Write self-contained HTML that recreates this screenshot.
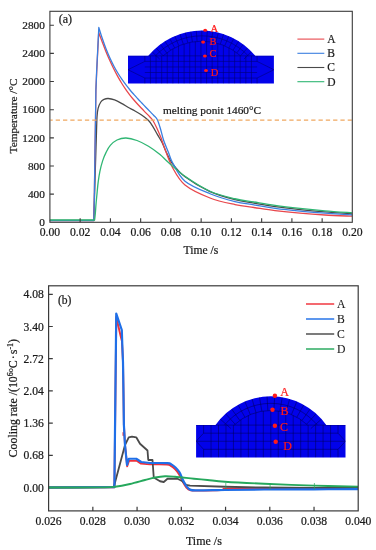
<!DOCTYPE html><html><head><meta charset="utf-8"><title>Temperature and cooling rate curves</title>
<style>html,body{margin:0;padding:0;background:#fff}svg{display:block}text{font-family:"Liberation Serif","Times New Roman",serif;fill:#1a1a1a;stroke:#1a1a1a;stroke-width:0.22px}</style></head><body>
<svg width="376" height="550" viewBox="0 0 376 550">
<rect width="376" height="550" fill="#fff"/>
<g fill="none" stroke-width="1.3" stroke-linejoin="round" stroke-linecap="butt">
<path d="M49.90,220.40 L93.80,220.40 L94.40,200.00 L95.30,170.00 L96.40,135.00 C96.50,132.00 96.72,121.43 97.00,117.00 C97.28,112.57 97.47,110.90 98.10,108.40 C98.73,105.90 99.82,103.50 100.80,102.00 C101.78,100.50 102.77,99.98 104.00,99.40 C105.23,98.82 106.43,98.42 108.20,98.50 C109.97,98.58 112.30,99.05 114.60,99.90 C116.90,100.75 119.77,102.37 122.00,103.60 C124.23,104.83 125.83,106.07 128.00,107.30 C130.17,108.53 132.73,109.72 135.00,111.00 C137.27,112.28 139.38,113.45 141.60,115.00 C143.82,116.55 146.52,118.53 148.30,120.30 C150.08,122.07 150.75,123.17 152.30,125.60 C153.85,128.03 155.93,132.02 157.60,134.90 C159.27,137.78 160.98,140.30 162.30,142.90 C163.62,145.50 163.88,147.15 165.50,150.50 C167.12,153.85 168.75,158.62 172.00,163.00 C175.25,167.38 178.67,172.03 185.00,176.80 C191.33,181.57 201.67,187.78 210.00,191.60 C218.33,195.42 227.67,197.78 235.00,199.70 C242.33,201.62 247.33,201.93 254.00,203.10 C260.67,204.27 267.33,205.62 275.00,206.70 C282.67,207.78 291.67,208.73 300.00,209.60 C308.33,210.47 316.33,211.20 325.00,211.90 C333.67,212.60 347.50,213.48 352.00,213.80" stroke="#4a4a4a"/>
<path d="M49.90,220.70 L93.80,220.70 L94.30,200.00 L95.00,150.00 L95.50,120.00 L95.90,90.00 L96.70,72.00 L97.50,56.00 L98.70,32.60 C99.20,33.93 100.53,37.52 101.70,40.58 C102.87,43.63 104.37,47.62 105.70,50.91 C107.03,54.20 108.37,57.32 109.70,60.30 C111.03,63.28 112.37,66.10 113.70,68.78 C115.03,71.47 116.37,74.00 117.70,76.41 C119.03,78.81 120.37,81.08 121.70,83.23 C123.03,85.39 124.37,87.40 125.70,89.33 C127.03,91.26 128.37,93.07 129.70,94.80 C131.03,96.53 132.37,98.16 133.70,99.74 C135.03,101.31 136.37,102.80 137.70,104.26 C139.03,105.72 140.37,107.12 141.70,108.51 C143.03,109.90 144.37,111.25 145.70,112.62 C147.03,114.00 148.55,115.53 149.70,116.76 C150.85,117.99 151.40,118.09 152.60,120.00 C153.80,121.91 155.52,125.27 156.90,128.20 C158.28,131.13 159.68,134.47 160.90,137.60 C162.12,140.73 162.27,142.02 164.20,147.00 C166.13,151.98 169.03,161.17 172.50,167.50 C175.97,173.83 178.75,179.92 185.00,185.00 C191.25,190.08 201.67,194.73 210.00,198.00 C218.33,201.27 227.67,203.02 235.00,204.60 C242.33,206.18 247.33,206.50 254.00,207.50 C260.67,208.50 267.33,209.65 275.00,210.60 C282.67,211.55 291.67,212.47 300.00,213.20 C308.33,213.93 316.33,214.50 325.00,215.00 C333.67,215.50 347.50,216.00 352.00,216.20" stroke="#e8474c"/>
<path d="M49.90,220.60 L93.80,220.60 L94.30,200.00 L95.00,150.00 L95.50,120.00 L95.90,90.00 L96.60,72.00 L97.30,58.00 L98.80,27.50 C99.30,29.09 100.63,33.59 101.80,37.04 C102.97,40.49 104.47,44.76 105.80,48.21 C107.13,51.66 108.47,54.80 109.80,57.75 C111.13,60.71 112.47,63.39 113.80,65.94 C115.13,68.48 116.47,70.80 117.80,73.01 C119.13,75.23 120.47,77.26 121.80,79.21 C123.13,81.16 124.47,82.97 125.80,84.72 C127.13,86.47 128.47,88.11 129.80,89.72 C131.13,91.33 132.47,92.85 133.80,94.36 C135.13,95.86 136.47,97.31 137.80,98.76 C139.13,100.20 140.47,101.61 141.80,103.02 C143.13,104.42 144.47,105.81 145.80,107.21 C147.13,108.60 148.47,109.99 149.80,111.38 C151.13,112.77 152.58,114.23 153.80,115.55 C155.02,116.87 156.02,117.19 157.10,119.30 C158.18,121.41 159.22,124.72 160.30,128.20 C161.38,131.68 162.23,136.15 163.60,140.20 C164.97,144.25 167.02,148.78 168.50,152.50 C169.98,156.22 169.75,157.71 172.50,162.50 C175.25,167.29 178.75,176.04 185.00,181.25 C191.25,186.46 201.67,190.36 210.00,193.75 C218.33,197.14 227.67,199.74 235.00,201.60 C242.33,203.46 247.33,203.77 254.00,204.90 C260.67,206.03 267.33,207.35 275.00,208.40 C282.67,209.45 291.67,210.40 300.00,211.20 C308.33,212.00 316.33,212.58 325.00,213.20 C333.67,213.82 347.50,214.62 352.00,214.90" stroke="#3a7fe0"/>
<path d="M49.90,220.00 L94.60,220.00 C94.72,218.97 95.05,216.60 95.30,213.80 C95.55,211.00 95.80,206.73 96.10,203.20 C96.40,199.67 96.75,196.15 97.10,192.60 C97.45,189.05 97.73,185.45 98.20,181.90 C98.67,178.35 99.15,174.85 99.90,171.30 C100.65,167.75 101.65,163.80 102.70,160.60 C103.75,157.40 104.93,154.63 106.20,152.10 C107.47,149.57 108.50,147.42 110.30,145.40 C112.10,143.38 114.38,141.23 117.00,140.00 C119.62,138.77 122.67,137.92 126.00,138.00 C129.33,138.08 133.25,139.12 137.00,140.50 C140.75,141.88 144.67,143.92 148.50,146.25 C152.33,148.58 156.67,151.79 160.00,154.50 C163.33,157.21 164.33,158.88 168.50,162.50 C172.67,166.12 178.08,171.46 185.00,176.25 C191.92,181.04 201.67,187.50 210.00,191.25 C218.33,195.00 227.67,196.96 235.00,198.75 C242.33,200.54 247.33,200.89 254.00,202.00 C260.67,203.11 267.33,204.33 275.00,205.40 C282.67,206.47 291.67,207.50 300.00,208.40 C308.33,209.30 316.33,210.07 325.00,210.80 C333.67,211.53 347.50,212.47 352.00,212.80" stroke="#2fb673"/>
</g>
<line x1="50.40" y1="120.1" x2="351.80" y2="120.1" stroke="#f0a860" stroke-width="1.05" stroke-dasharray="4.3,3" stroke-dashoffset="2"/>
<text x="163" y="114.1" font-size="11.3">melting ponit 1460°C</text>
<clipPath id="ia"><path d="M128.00,83.60 L128.00,55.85 L148.30,55.85 A69.13,69.13 0 0 1 255.30,55.85 L273.90,55.85 L273.90,83.60 Z"/></clipPath>
<path d="M128.00,83.60 L128.00,55.85 L148.30,55.85 A69.13,69.13 0 0 1 255.30,55.85 L273.90,55.85 L273.90,83.60 Z" fill="#0202ea"/>
<g clip-path="url(#ia)" stroke="#000070" stroke-width="0.55" fill="none">
<path d="M144.83,55.85 V61.40 M144.83,78.05 V83.60"/>
<line x1="150.45" y1="55.85" x2="150.45" y2="83.60"/>
<line x1="156.06" y1="55.85" x2="156.06" y2="83.60"/>
<line x1="161.67" y1="55.85" x2="161.67" y2="83.60"/>
<line x1="167.28" y1="52.44" x2="167.28" y2="83.60"/>
<line x1="172.89" y1="48.81" x2="172.89" y2="83.60"/>
<line x1="178.50" y1="46.00" x2="178.50" y2="83.60"/>
<line x1="184.12" y1="43.90" x2="184.12" y2="83.60"/>
<line x1="189.73" y1="42.42" x2="189.73" y2="83.60"/>
<line x1="195.34" y1="41.52" x2="195.34" y2="83.60"/>
<line x1="200.95" y1="41.17" x2="200.95" y2="83.60"/>
<line x1="206.56" y1="41.36" x2="206.56" y2="83.60"/>
<line x1="212.17" y1="42.09" x2="212.17" y2="83.60"/>
<line x1="217.78" y1="43.39" x2="217.78" y2="83.60"/>
<line x1="223.40" y1="45.30" x2="223.40" y2="83.60"/>
<line x1="229.01" y1="47.88" x2="229.01" y2="83.60"/>
<line x1="234.62" y1="51.24" x2="234.62" y2="83.60"/>
<line x1="240.23" y1="55.57" x2="240.23" y2="83.60"/>
<line x1="245.84" y1="55.85" x2="245.84" y2="83.60"/>
<line x1="251.45" y1="55.85" x2="251.45" y2="83.60"/>
<path d="M257.07,55.85 V61.40 M257.07,78.05 V83.60"/>
<line x1="128.00" y1="55.85" x2="273.90" y2="55.85"/>
<line x1="144.83" y1="61.40" x2="257.07" y2="61.40"/>
<line x1="144.83" y1="66.95" x2="257.07" y2="66.95"/>
<line x1="144.83" y1="72.50" x2="257.07" y2="72.50"/>
<line x1="144.83" y1="78.05" x2="257.07" y2="78.05"/>
<path d="M144.83,61.40 L128.00,69.72 L144.83,78.05 M257.07,61.40 L273.90,69.72 L257.07,78.05"/>
<path d="M155.39,55.85 A63.80,63.80 0 0 1 248.21,55.85"/>
<path d="M163.05,55.85 A58.47,58.47 0 0 1 240.55,55.85"/>
<line x1="159.67" y1="59.09" x2="151.99" y2="51.69"/>
<line x1="163.07" y1="55.83" x2="156.01" y2="47.84"/>
<line x1="166.71" y1="52.86" x2="160.32" y2="44.33"/>
<line x1="170.59" y1="50.19" x2="164.89" y2="41.18"/>
<line x1="174.66" y1="47.84" x2="169.71" y2="38.40"/>
<line x1="178.91" y1="45.83" x2="174.74" y2="36.02"/>
<line x1="183.31" y1="44.16" x2="179.94" y2="34.05"/>
<line x1="187.82" y1="42.86" x2="185.28" y2="32.50"/>
<line x1="192.43" y1="41.92" x2="190.72" y2="31.39"/>
<line x1="197.10" y1="41.35" x2="196.24" y2="30.72"/>
<line x1="201.80" y1="41.16" x2="201.80" y2="30.50"/>
<line x1="206.50" y1="41.35" x2="207.36" y2="30.72"/>
<line x1="211.17" y1="41.92" x2="212.88" y2="31.39"/>
<line x1="215.78" y1="42.86" x2="218.32" y2="32.50"/>
<line x1="220.29" y1="44.16" x2="223.66" y2="34.05"/>
<line x1="224.69" y1="45.83" x2="228.86" y2="36.02"/>
<line x1="228.94" y1="47.84" x2="233.89" y2="38.40"/>
<line x1="233.01" y1="50.19" x2="238.71" y2="41.18"/>
<line x1="236.89" y1="52.86" x2="243.28" y2="44.33"/>
<line x1="240.53" y1="55.83" x2="247.59" y2="47.84"/>
<line x1="243.93" y1="59.09" x2="251.61" y2="51.69"/>
</g>
<ellipse cx="205.20" cy="30.30" rx="1.94" ry="1.57" fill="#ff1a1a"/>
<text x="210.50" y="31.70" font-size="10.5" style="fill:#ff1a1a;stroke:#ff1a1a">A</text>
<ellipse cx="203.10" cy="42.10" rx="1.94" ry="1.57" fill="#ff1a1a"/>
<text x="209.50" y="44.90" font-size="10.5" style="fill:#ff1a1a;stroke:#ff1a1a">B</text>
<ellipse cx="204.90" cy="56.00" rx="1.94" ry="1.57" fill="#ff1a1a"/>
<text x="209.50" y="57.30" font-size="10.5" style="fill:#ff1a1a;stroke:#ff1a1a">C</text>
<ellipse cx="206.00" cy="70.50" rx="1.94" ry="1.57" fill="#ff1a1a"/>
<text x="210.70" y="76.20" font-size="10.5" style="fill:#ff1a1a;stroke:#ff1a1a">D</text>
<rect x="49.90" y="11.30" width="302.40" height="211.00" fill="none" stroke="#3a3a3a" stroke-width="1.1"/>
<text x="49.90" y="236.3" font-size="11.7" text-anchor="middle">0.00</text>
<text x="80.15" y="236.3" font-size="11.7" text-anchor="middle">0.02</text>
<text x="110.40" y="236.3" font-size="11.7" text-anchor="middle">0.04</text>
<text x="140.65" y="236.3" font-size="11.7" text-anchor="middle">0.06</text>
<text x="170.90" y="236.3" font-size="11.7" text-anchor="middle">0.08</text>
<text x="201.15" y="236.3" font-size="11.7" text-anchor="middle">0.10</text>
<text x="231.40" y="236.3" font-size="11.7" text-anchor="middle">0.12</text>
<text x="261.65" y="236.3" font-size="11.7" text-anchor="middle">0.14</text>
<text x="291.90" y="236.3" font-size="11.7" text-anchor="middle">0.16</text>
<text x="322.15" y="236.3" font-size="11.7" text-anchor="middle">0.18</text>
<text x="352.40" y="236.3" font-size="11.7" text-anchor="middle">0.20</text>
<text x="44.9" y="226.00" font-size="11.3" text-anchor="end">0</text>
<text x="44.9" y="197.85" font-size="11.3" text-anchor="end">400</text>
<text x="44.9" y="169.70" font-size="11.3" text-anchor="end">800</text>
<text x="44.9" y="141.55" font-size="11.3" text-anchor="end">1200</text>
<text x="44.9" y="113.40" font-size="11.3" text-anchor="end">1600</text>
<text x="44.9" y="85.25" font-size="11.3" text-anchor="end">2000</text>
<text x="44.9" y="57.10" font-size="11.3" text-anchor="end">2400</text>
<text x="44.9" y="28.95" font-size="11.3" text-anchor="end">2800</text>
<path d="M80.15,222.30 v-4.0 M110.40,222.30 v-4.0 M140.65,222.30 v-4.0 M170.90,222.30 v-4.0 M201.15,222.30 v-4.0 M231.40,222.30 v-4.0 M261.65,222.30 v-4.0 M291.90,222.30 v-4.0 M322.15,222.30 v-4.0 M49.90,194.15 h4.0 M49.90,166.00 h4.0 M49.90,137.85 h4.0 M49.90,109.70 h4.0 M49.90,81.55 h4.0 M49.90,53.40 h4.0 M49.90,25.25 h4.0" stroke="#3a3a3a" stroke-width="1.1" fill="none"/>
<text x="200.9" y="253.8" font-size="11.6" text-anchor="middle">Time /s</text>
<text transform="translate(17.2,116) rotate(-90)" font-size="11.3" text-anchor="middle">Temperature /°C</text>
<text x="58.8" y="23.2" font-size="12">(a)</text>
<line x1="297.4" y1="39.10" x2="324.3" y2="39.10" stroke="#e8474c" stroke-width="1.1"/>
<text x="327.3" y="42.90" font-size="11.5" style="stroke-width:0.2px">A</text>
<line x1="297.4" y1="53.30" x2="324.3" y2="53.30" stroke="#3a7fe0" stroke-width="1.1"/>
<text x="327.3" y="57.10" font-size="11.5" style="stroke-width:0.2px">B</text>
<line x1="297.4" y1="67.50" x2="324.3" y2="67.50" stroke="#4a4a4a" stroke-width="1.1"/>
<text x="327.3" y="71.30" font-size="11.5" style="stroke-width:0.2px">C</text>
<line x1="297.4" y1="81.70" x2="324.3" y2="81.70" stroke="#2fb673" stroke-width="1.1"/>
<text x="327.3" y="85.50" font-size="11.5" style="stroke-width:0.2px">D</text>
<g fill="none" stroke-linejoin="round" stroke-linecap="butt">
<path d="M48.60,487.50 L114.40,487.20 L116.30,317.00 L120.50,335.50 L121.90,341.00 L122.30,348.00 L123.00,362.00 L123.50,395.00 L123.90,425.00 L125.00,445.00 L127.20,466.30 L129.00,460.90 L137.00,460.90 L141.00,463.60 L150.00,464.40 C152.83,464.42 163.52,464.25 167.00,464.50 C170.48,464.75 169.57,465.12 170.90,465.90 C172.23,466.68 173.65,467.82 175.00,469.20 C176.35,470.58 177.77,472.23 179.00,474.20 C180.23,476.17 181.17,478.77 182.40,481.00 C183.63,483.23 185.02,486.05 186.40,487.60 C187.78,489.15 188.77,489.80 190.70,490.30 C192.63,490.80 192.95,490.63 198.00,490.60 C203.05,490.57 216.17,490.42 221.00,490.10 C225.83,489.78 219.83,488.98 227.00,488.70 C234.17,488.42 249.50,488.47 264.00,488.40 C278.50,488.33 298.33,488.33 314.00,488.30 C329.67,488.27 350.67,488.22 358.00,488.20" stroke="#f0303a" stroke-width="1.9"/>
<path d="M123.3,432.2 V435.8" stroke="#f0303a" stroke-width="1.6"/>
<path d="M48.60,487.50 L113.75,487.20 L125.00,445.00 L128.75,437.30 L132.00,436.60 L136.25,437.30 L140.00,443.75 L147.50,450.50 L148.25,460.00 L152.50,460.00 L153.75,477.50 L160.00,481.25 L163.75,482.00 L167.50,478.75 L177.50,478.75 L182.50,481.25 L186.25,485.00 L190.00,485.70 L225.00,486.75 L264.00,487.50 L314.00,487.80 L358.00,488.00" stroke="#4a4a4a" stroke-width="1.8"/>
<path d="M48.60,487.50 L114.40,487.20 L116.25,313.60 L121.80,330.00 L122.30,345.00 L123.00,362.00 L123.50,395.00 L123.90,425.00 L125.00,445.00 L127.00,465.00 L128.75,458.75 L136.25,458.75 L141.25,462.00 L150.00,463.00 C152.92,463.02 163.93,462.87 167.50,463.10 C171.07,463.33 170.07,463.67 171.40,464.40 C172.73,465.13 174.15,466.18 175.50,467.50 C176.85,468.82 178.30,470.30 179.50,472.30 C180.70,474.30 181.50,477.10 182.70,479.50 C183.90,481.90 185.37,484.97 186.70,486.70 C188.03,488.43 188.82,489.28 190.70,489.90 C192.58,490.52 192.28,490.38 198.00,490.40 C203.72,490.42 214.00,490.15 225.00,490.00 C236.00,489.85 249.17,489.62 264.00,489.50 C278.83,489.38 298.33,489.35 314.00,489.30 C329.67,489.25 350.67,489.22 358.00,489.20" stroke="#1f6fe8" stroke-width="2.2"/>
<path d="M48.60,487.50 C57.17,487.48 88.93,487.53 100.00,487.40 C111.07,487.27 110.00,487.27 115.00,486.70 C120.00,486.13 125.00,485.12 130.00,484.00 C135.00,482.88 140.83,481.08 145.00,480.00 C149.17,478.92 151.67,478.12 155.00,477.50 C158.33,476.88 161.67,476.38 165.00,476.25 C168.33,476.12 170.17,476.33 175.00,476.75 C179.83,477.17 188.58,478.21 194.00,478.75 C199.42,479.29 202.33,479.50 207.50,480.00 C212.67,480.50 215.58,481.12 225.00,481.75 C234.42,482.38 249.17,483.11 264.00,483.75 C278.83,484.39 298.33,485.12 314.00,485.60 C329.67,486.08 350.67,486.43 358.00,486.60" stroke="#25a85c" stroke-width="1.9"/>
<path d="M225.8,483 V489.5" stroke="#25a85c" stroke-width="0.7"/>
<path d="M270.1,483 V489.5" stroke="#25a85c" stroke-width="0.7"/>
<path d="M314.4,483 V489.5" stroke="#25a85c" stroke-width="0.7"/>
</g>
<clipPath id="ib"><path d="M196.10,457.40 L196.10,425.10 L215.50,425.10 A67.57,67.57 0 0 1 326.25,425.10 L345.50,425.10 L345.50,457.40 Z"/></clipPath>
<path d="M196.10,457.40 L196.10,425.10 L215.50,425.10 A67.57,67.57 0 0 1 326.25,425.10 L345.50,425.10 L345.50,457.40 Z" fill="#0202ea"/>
<g clip-path="url(#ib)" stroke="#000050" stroke-width="0.5" fill="none">
<path d="M203.57,425.10 V433.18 M203.57,449.32 V457.40"/>
<line x1="211.04" y1="425.10" x2="211.04" y2="457.40"/>
<line x1="218.51" y1="425.10" x2="218.51" y2="457.40"/>
<line x1="225.98" y1="425.10" x2="225.98" y2="457.40"/>
<line x1="233.45" y1="425.10" x2="233.45" y2="457.40"/>
<line x1="240.92" y1="419.64" x2="240.92" y2="457.40"/>
<line x1="248.39" y1="415.41" x2="248.39" y2="457.40"/>
<line x1="255.86" y1="412.60" x2="255.86" y2="457.40"/>
<line x1="263.33" y1="410.98" x2="263.33" y2="457.40"/>
<line x1="270.80" y1="410.44" x2="270.80" y2="457.40"/>
<line x1="278.27" y1="410.96" x2="278.27" y2="457.40"/>
<line x1="285.74" y1="412.55" x2="285.74" y2="457.40"/>
<line x1="293.21" y1="415.34" x2="293.21" y2="457.40"/>
<line x1="300.68" y1="419.54" x2="300.68" y2="457.40"/>
<line x1="308.15" y1="425.10" x2="308.15" y2="457.40"/>
<line x1="315.62" y1="425.10" x2="315.62" y2="457.40"/>
<line x1="323.09" y1="425.10" x2="323.09" y2="457.40"/>
<line x1="330.56" y1="425.10" x2="330.56" y2="457.40"/>
<path d="M338.03,425.10 V433.18 M338.03,449.32 V457.40"/>
<line x1="196.10" y1="425.10" x2="345.50" y2="425.10"/>
<line x1="203.57" y1="433.18" x2="338.03" y2="433.18"/>
<line x1="196.10" y1="441.25" x2="345.50" y2="441.25"/>
<line x1="203.57" y1="449.32" x2="338.03" y2="449.32"/>
<path d="M203.57,433.18 L196.10,441.25 L203.57,449.32 M338.03,433.18 L345.50,441.25 L338.03,449.32"/>
<path d="M224.42,425.10 A60.47,60.47 0 0 1 317.33,425.10"/>
<path d="M234.14,425.10 A53.38,53.38 0 0 1 307.61,425.10"/>
<line x1="230.86" y1="428.50" x2="220.22" y2="419.10"/>
<line x1="235.10" y1="424.21" x2="225.59" y2="413.68"/>
<line x1="239.79" y1="420.43" x2="231.53" y2="408.89"/>
<line x1="244.89" y1="417.20" x2="237.97" y2="404.80"/>
<line x1="250.31" y1="414.56" x2="244.84" y2="401.47"/>
<line x1="255.99" y1="412.56" x2="252.04" y2="398.93"/>
<line x1="261.87" y1="411.21" x2="259.48" y2="397.22"/>
<line x1="267.86" y1="410.53" x2="267.06" y2="396.36"/>
<line x1="273.89" y1="410.53" x2="274.69" y2="396.36"/>
<line x1="279.88" y1="411.21" x2="282.27" y2="397.22"/>
<line x1="285.76" y1="412.56" x2="289.71" y2="398.93"/>
<line x1="291.44" y1="414.56" x2="296.91" y2="401.47"/>
<line x1="296.86" y1="417.20" x2="303.78" y2="404.80"/>
<line x1="301.96" y1="420.43" x2="310.22" y2="408.89"/>
<line x1="306.65" y1="424.21" x2="316.16" y2="413.68"/>
<line x1="310.89" y1="428.50" x2="321.53" y2="419.10"/>
</g>
<ellipse cx="274.90" cy="395.70" rx="2.22" ry="2.22" fill="#ff1a1a"/>
<text x="280.20" y="396.00" font-size="12" style="fill:#ff1a1a;stroke:#ff1a1a">A</text>
<ellipse cx="272.50" cy="409.80" rx="2.22" ry="2.22" fill="#ff1a1a"/>
<text x="280.40" y="414.70" font-size="12" style="fill:#ff1a1a;stroke:#ff1a1a">B</text>
<ellipse cx="274.90" cy="425.70" rx="2.22" ry="2.22" fill="#ff1a1a"/>
<text x="280.00" y="431.30" font-size="12" style="fill:#ff1a1a;stroke:#ff1a1a">C</text>
<ellipse cx="275.70" cy="441.80" rx="2.22" ry="2.22" fill="#ff1a1a"/>
<text x="283.30" y="450.20" font-size="12" style="fill:#ff1a1a;stroke:#ff1a1a">D</text>
<rect x="48.60" y="285.80" width="309.60" height="225.10" fill="none" stroke="#3a3a3a" stroke-width="1.2"/>
<text x="48.60" y="525.3" font-size="11.6" text-anchor="middle">0.026</text>
<text x="92.84" y="525.3" font-size="11.6" text-anchor="middle">0.028</text>
<text x="137.08" y="525.3" font-size="11.6" text-anchor="middle">0.030</text>
<text x="181.32" y="525.3" font-size="11.6" text-anchor="middle">0.032</text>
<text x="225.56" y="525.3" font-size="11.6" text-anchor="middle">0.034</text>
<text x="269.80" y="525.3" font-size="11.6" text-anchor="middle">0.036</text>
<text x="314.04" y="525.3" font-size="11.6" text-anchor="middle">0.038</text>
<text x="358.28" y="525.3" font-size="11.6" text-anchor="middle">0.040</text>
<text x="43.8" y="491.50" font-size="11.6" text-anchor="end">0.00</text>
<text x="43.8" y="459.30" font-size="11.6" text-anchor="end">0.68</text>
<text x="43.8" y="427.10" font-size="11.6" text-anchor="end">1.36</text>
<text x="43.8" y="394.90" font-size="11.6" text-anchor="end">2.04</text>
<text x="43.8" y="362.70" font-size="11.6" text-anchor="end">2.72</text>
<text x="43.8" y="330.50" font-size="11.6" text-anchor="end">3.40</text>
<text x="43.8" y="298.30" font-size="11.6" text-anchor="end">4.08</text>
<path d="M92.84,510.90 v-4.2 M137.08,510.90 v-4.2 M181.32,510.90 v-4.2 M225.56,510.90 v-4.2 M269.80,510.90 v-4.2 M314.04,510.90 v-4.2 M48.60,455.30 h4.2 M48.60,423.10 h4.2 M48.60,390.90 h4.2 M48.60,358.70 h4.2 M48.60,326.50 h4.2 M48.60,294.30 h4.2" stroke="#3a3a3a" stroke-width="1.2" fill="none"/>
<text x="203.9" y="545.1" font-size="12" text-anchor="middle">Time /s</text>
<text transform="translate(17.4,398.2) rotate(-90)" font-size="11.9" text-anchor="middle">Cooling rate /(10<tspan font-size="8" dy="-4.5">6o</tspan><tspan dy="4.5">C</tspan><tspan dx="1">·</tspan><tspan dx="1">s</tspan><tspan font-size="8" dy="-4.5">-1</tspan><tspan dy="4.5">)</tspan></text>
<text x="57.9" y="303.5" font-size="11.6">(b)</text>
<line x1="306" y1="304.00" x2="334.2" y2="304.00" stroke="#f0303a" stroke-width="1.45"/>
<text x="337.0" y="307.90" font-size="11.7" style="stroke-width:0.08px">A</text>
<line x1="306" y1="319.00" x2="334.2" y2="319.00" stroke="#1f6fe8" stroke-width="1.45"/>
<text x="337.0" y="322.90" font-size="11.7" style="stroke-width:0.08px">B</text>
<line x1="306" y1="334.00" x2="334.2" y2="334.00" stroke="#4a4a4a" stroke-width="1.45"/>
<text x="337.0" y="337.90" font-size="11.7" style="stroke-width:0.08px">C</text>
<line x1="306" y1="349.00" x2="334.2" y2="349.00" stroke="#25a85c" stroke-width="1.45"/>
<text x="337.0" y="352.90" font-size="11.7" style="stroke-width:0.08px">D</text>
</svg></body></html>
